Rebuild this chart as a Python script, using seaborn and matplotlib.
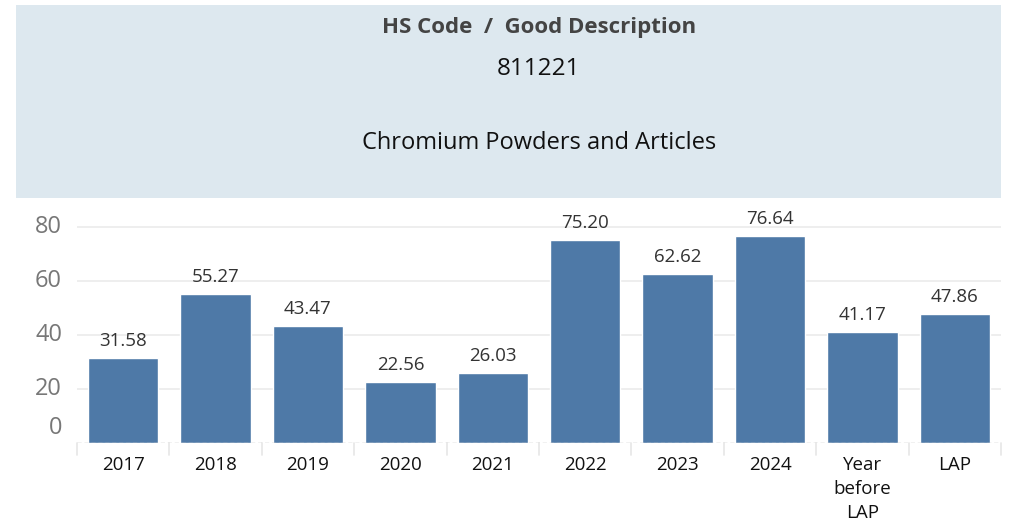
import matplotlib
matplotlib.use("Agg")
import matplotlib.pyplot as plt
import matplotlib.transforms as mtransforms
from matplotlib.patches import Rectangle
import seaborn as sns
import pandas as pd

# Data
categories = ["2017", "2018", "2019", "2020", "2021", "2022", "2023", "2024",
              "Year\nbefore\nLAP", "LAP"]
values = [31.58, 55.27, 43.47, 22.56, 26.03, 75.20, 62.62, 76.64, 41.17, 47.86]
y_ticks = [0, 20, 40, 60, 80]

title_line = "HS Code  /  Good Description"
hs_code = "811221"
description = "Chromium Powders and Articles"

BAR_COLOR = "#4e79a7"
HEADER_BG = "#dde8ef"

sns.set_style("white")
plt.rcParams["font.family"] = ["Open Sans", "DejaVu Sans"]

df = pd.DataFrame({"category": categories, "value": values})

W, H = 1012, 522
fig = plt.figure(figsize=(W / 100, H / 100), dpi=100)

# header panel
fig.patches.append(Rectangle((16 / W, 1 - 198 / H), (1001 - 16) / W, (198 - 5) / H,
                             transform=fig.transFigure, facecolor=HEADER_BG,
                             edgecolor="none", zorder=0))
fig.text(539 / W, 1 - 27 / H, title_line, ha="center", va="center",
         fontsize=16, fontweight="bold", color="#444444")
fig.text(539 / W, 1 - 69 / H, hs_code, ha="center", va="center",
         fontsize=17.5, color="#111111")
fig.text(539 / W, 1 - 143 / H, description, ha="center", va="center",
         fontsize=17, color="#111111")

ax = fig.add_axes([77 / W, 1 - 443 / H, (1001 - 77) / W, (443 - 200) / H])
sns.barplot(data=df, x="category", y="value", color=BAR_COLOR, width=0.76,
            saturation=1, ax=ax, zorder=3)

ax.set_xlim(-0.5, len(categories) - 0.5)
ax.set_ylim(0, 90)
ax.set_xlabel("")
ax.set_ylabel("")
for s in ax.spines.values():
    s.set_visible(False)

# gridlines
for t in y_ticks[1:]:
    ax.axhline(t, color="#ebebeb", linewidth=1.2, zorder=1)
ax.axhline(0, color="#bbbbbb", linewidth=1, linestyle=(0, (3, 2)), zorder=4)

# y ticks
ax.set_yticks(y_ticks)
ax.set_yticklabels([])
for t in y_ticks:
    yoff = 15 if t == 0 else 0
    ax.annotate(str(t), xy=(0, t), xycoords=("axes fraction", "data"),
                xytext=(-15, yoff), textcoords="offset pixels",
                ha="right", va="center", fontsize=17, color="#777777")
ax.tick_params(axis="y", length=0)

# x ticks
ax.tick_params(axis="x", length=0, pad=9, labelsize=13.5, labelcolor="#111111")
for lbl in ax.get_xticklabels():
    lbl.set_linespacing(1.45)
    lbl.set_va("top")

# category dividers below axis
trans = mtransforms.blended_transform_factory(ax.transData, ax.transAxes)
for i in range(len(categories) + 1):
    ax.plot([i - 0.5, i - 0.5], [0, -12 / 243], transform=trans, color="#e6e6e6",
            linewidth=1.2, clip_on=False)

# value labels
for i, v in enumerate(values):
    ax.annotate(f"{v:.2f}", xy=(i, v), xytext=(0, 8), textcoords="offset pixels",
                ha="center", va="bottom", fontsize=13.5, color="#333333")

fig.savefig("out.png", dpi=100, facecolor="white")
